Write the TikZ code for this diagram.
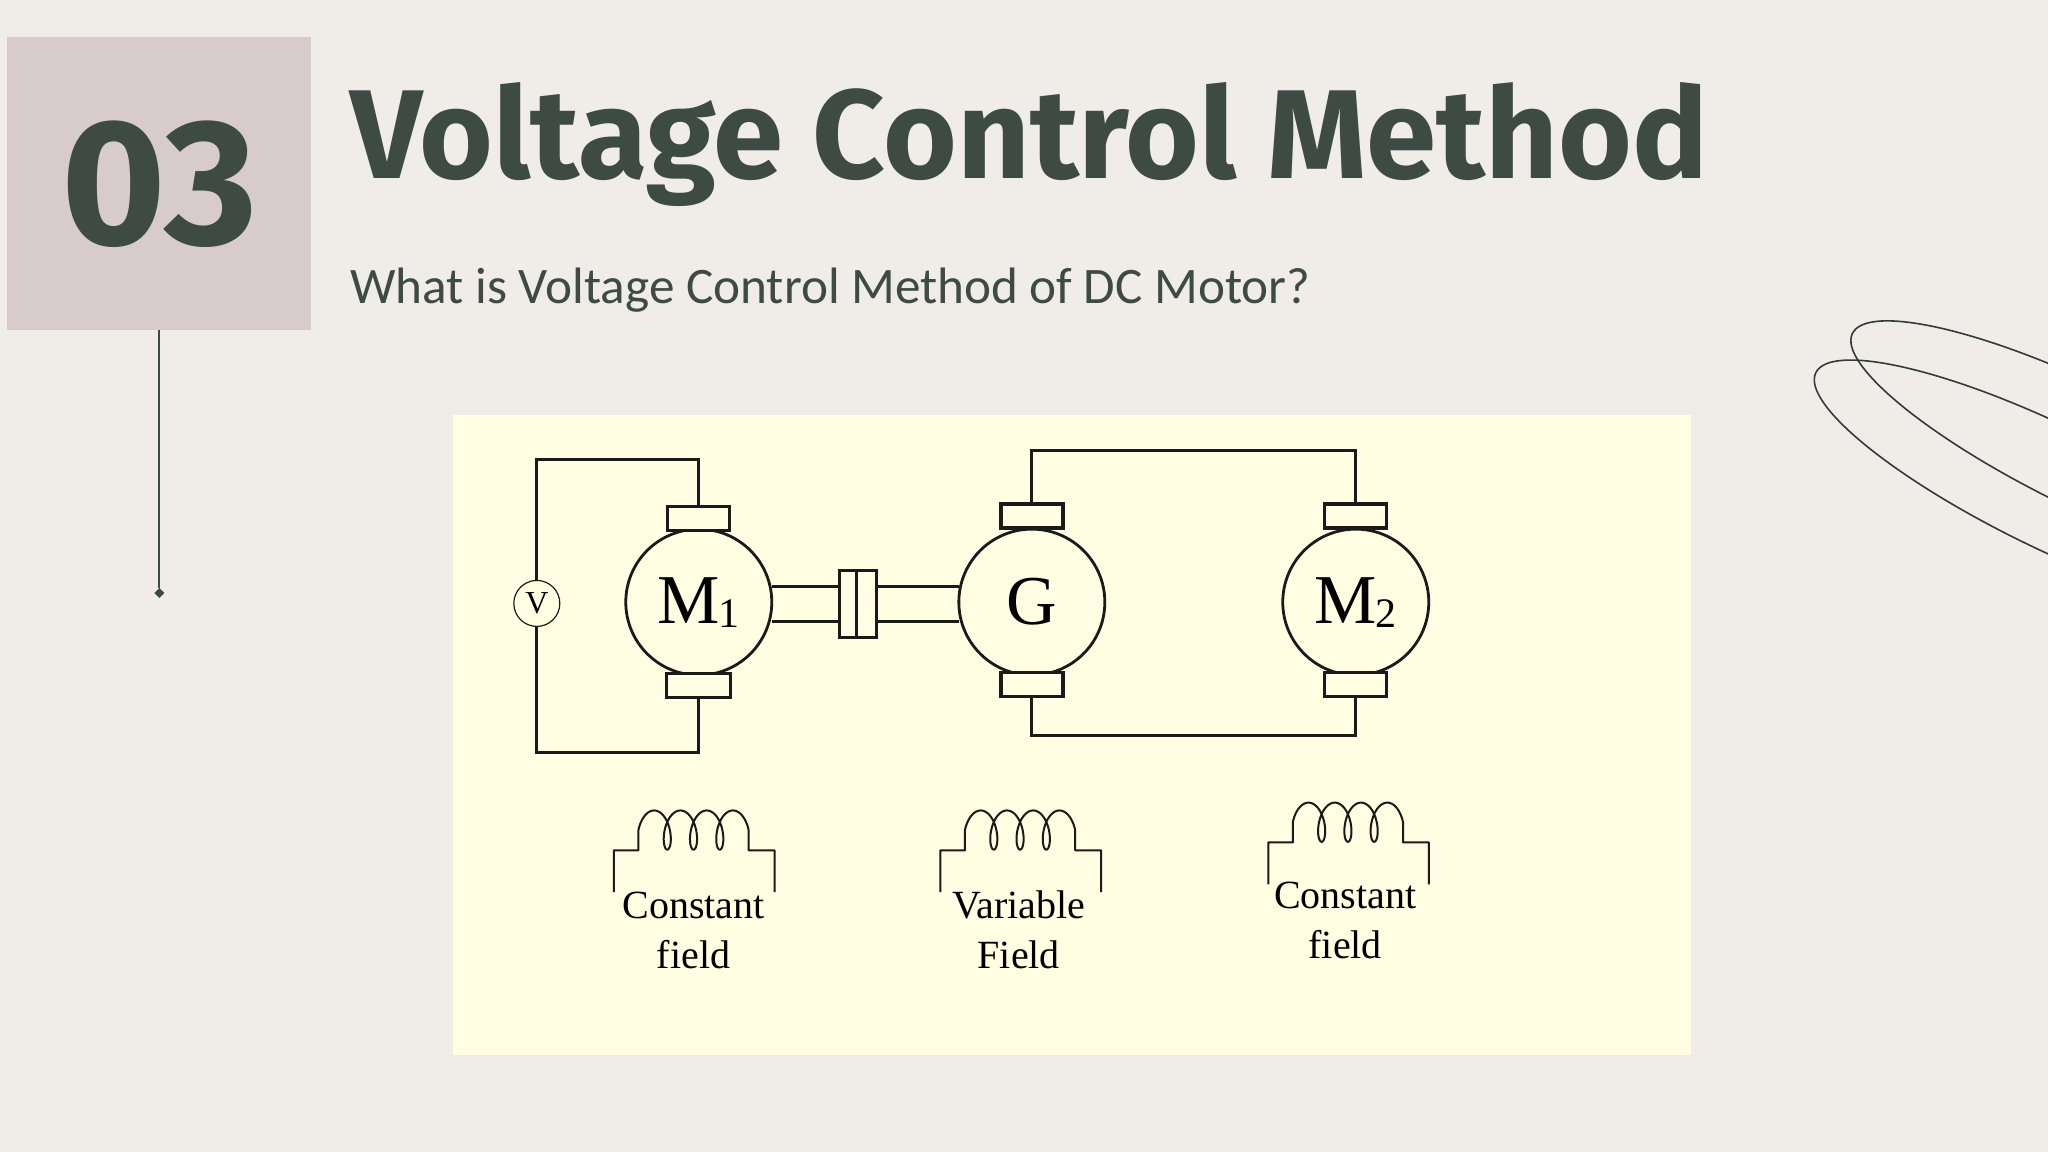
\documentclass[tikz,border=0pt]{standalone}
\usepackage{fontspec}
\setmainfont{Liberation Serif}
\newfontfamily\titlefont{Fira Sans}
\newfontfamily\subfont{Carlito}
\usetikzlibrary{shapes.geometric}
\definecolor{bgc}{HTML}{F0EDE9}
\definecolor{pinkc}{HTML}{D8CBCB}
\definecolor{darkc}{HTML}{3E4A44}
\definecolor{yelc}{HTML}{FFFDE2}
\definecolor{linec}{HTML}{1A1A1A}
\tikzset{
  wire/.style={line width=2.8pt, draw=linec},
  brush/.style={draw=linec, line width=3.4pt, fill=yelc, minimum width=62pt, minimum height=24pt, inner sep=0pt},
  machine/.style={circle, draw=linec, line width=2.8pt, minimum size=146pt, inner sep=0pt, font=\fontsize{70}{70}\selectfont},
  lbl/.style={font=\fontsize{40}{50}\selectfont, align=center},
}
\begin{document}
\begin{tikzpicture}[x=1.30612pt, y=-1.30612pt]
\path[use as bounding box, fill=bgc] (0,0) rectangle (1568,882);
% decorative ellipses
\begin{scope}
\clip (0,0) rectangle (1568,882);
\draw[darkc!80!black, line width=1.6pt, rotate around={-26:(1570,373)}] (1570,373) ellipse (200 and 47);
\draw[darkc!80!black, line width=1.6pt, rotate around={-26:(1598,343)}] (1598,343) ellipse (200 and 47);
\end{scope}
% header
\fill[pinkc] (5,28) rectangle (238,253);
\node[anchor=base, inner sep=0pt, text=darkc] (num) at (122,187) {\resizebox{196pt}{!}{\titlefont\bfseries 03}};
\node[anchor=base west, inner sep=0pt, text=darkc] (title) at (268,137) {\resizebox{1357pt}{!}{\titlefont\bfseries Voltage Control Method}};
\node[anchor=base west, inner sep=0pt, text=darkc] (sub) at (268,232) {\resizebox{960pt}{!}{\subfont What is Voltage Control Method of DC Motor?}};
\coordinate (vtop) at (122,253);
\node[diamond, fill=darkc, inner sep=0pt, minimum size=10pt] (dia) at (122,454) {};
\draw[darkc, line width=2pt] (vtop) -- (dia);
% panel
\fill[yelc] (347,318) rectangle (1295,808);
% shaft
\draw[wire] (591,449) -- (734,449);
\draw[wire] (591,476) -- (734,476);
\draw[wire, fill=yelc] (643,437) rectangle (657,488);
\draw[wire, fill=yelc] (656,437) rectangle (671,488);
% machines
\node[machine] (m1) at (535,461) {M\kern-1pt\raisebox{-4pt}{\fontsize{42}{42}\selectfont 1}};
\node[machine] (g) at (790,461) {G};
\node[machine] (m2) at (1038,461) {M\kern-1pt\raisebox{-4pt}{\fontsize{42}{42}\selectfont 2}};
\node[brush] (m1t) at (535,397) {};
\node[brush, minimum width=64pt] (m1b) at (535,525) {};
\node[brush] (gt) at (790,395) {};
\node[brush] (gb) at (790,524) {};
\node[brush] (m2t) at (1038,395) {};
\node[brush] (m2b) at (1038,524) {};
% voltmeter
\node[circle, draw=linec, line width=1.2pt, minimum size=46pt, inner sep=0pt, fill=yelc, font=\fontsize{32}{32}\selectfont] (vm) at (411,462) {V};
\draw[wire] (vm.north) |- (535,352) -- (m1t.north);
\draw[wire] (vm.south) |- (535,576) -- (m1b.south);
\draw[wire] (gt.north) |- (1038,345) -- (m2t.north);
\draw[wire] (gb.south) |- (1038,563) -- (m2b.south);
% field coils
\foreach \cx/\yb/\nm in {531/651/fa, 781/651/fb, 1032/645/fc}{
  \pgfmathsetmacro{\xs}{\cx-42.2}
  \pgfmathsetmacro{\xe}{\cx+42.2}
  \pgfmathsetmacro{\xo}{\xs-5.03+7}
  \pgfmathsetmacro{\ym}{\yb-15.5}
  \coordinate (\nm l) at (\cx-61,\yb+32);
  \coordinate (\nm r) at (\cx+62,\yb+32);
  \draw[line width=2pt, draw=linec, line join=round]
    (\nm l) -- (\cx-61,\yb) -- (\xs,\yb) -- (\xs,\ym)
    -- plot[domain=pi/2:7.5*pi, samples=260, variable=\t] ({\xo+3.2*\t-7*sin(\t r)}, {\ym+15*cos(\t r)})
    -- (\xe,\yb) -- (\cx+62,\yb) -- (\nm r);
}
\node[lbl] (la) at (531,712) {Constant\\field};
\node[lbl] (lb) at (780,712) {Variable\\Field};
\node[lbl] (lc) at (1030,705) {Constant\\field};
\end{tikzpicture}
\end{document}
